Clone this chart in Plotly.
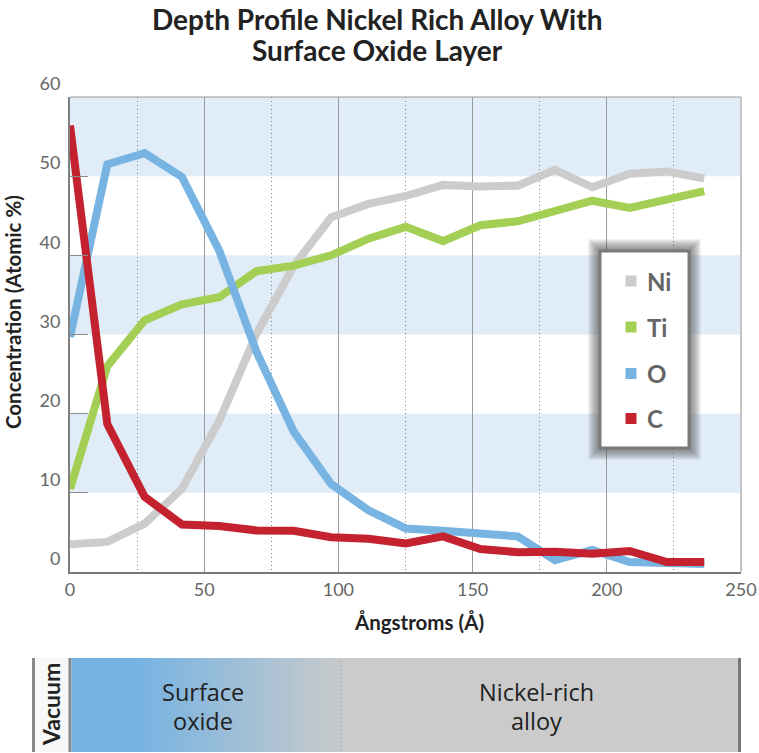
import plotly.graph_objects as go

# ---------------- data ----------------
depth = [0, 13.9, 27.8, 41.7, 55.6, 69.5, 83.4, 97.3, 111.2, 125.1, 139.0,
         152.9, 166.8, 180.7, 194.6, 208.5, 222.4, 236.3]
ni = [3.5, 3.8, 6.1, 10.5, 19.1, 30.1, 38.7, 44.8, 46.5, 47.5, 48.9, 48.7,
      48.8, 50.8, 48.6, 50.3, 50.6, 49.7]
ti = [10.5, 26.0, 31.8, 33.8, 34.7, 38.0, 38.7, 40.0, 42.1, 43.6, 41.8, 43.8,
      44.3, 45.7, 46.9, 46.0, 47.1, 48.1]
ox = [29.7, 51.5, 52.9, 49.9, 40.6, 27.8, 17.7, 11.1, 7.8, 5.5, 5.2, 4.9,
      4.5, 1.5, 2.8, 1.25, 1.25, 1.0]
cc = [56.4, 18.7, 9.5, 6.0, 5.8, 5.25, 5.2, 4.4, 4.2, 3.6, 4.5, 2.9, 2.5,
      2.55, 2.3, 2.65, 1.25, 1.25]

series_names = ["Ni", "Ti", "O", "C"]
series_values = [ni, ti, ox, cc]
series_colors = ["#cccccc", "#a3cf55", "#78b4e2", "#c4222f"]

y_ticks = [0, 10, 20, 30, 40, 50, 60]
x_ticks = [0, 50, 100, 150, 200, 250]
bands = [(10, 20), (30, 40), (50, 60)]

title_lines = ["Depth Profile Nickel Rich Alloy With", "Surface Oxide Layer"]
x_title = "Ångstroms (Å)"
y_title = "Concentration (Atomic %)"
layer_labels = [("Surface", "oxide"), ("Nickel-rich", "alloy")]

# ---------------- layout geometry ----------------
W, H = 759, 753
L, R, T, B = 70, 741, 97, 572
PW, PH = R - L, B - T


def PX(px):
    return (px - L) / PW


def PY(py):
    return (B - py) / PH


FONT = "Lato"
FONT2 = "Open Sans"
fig = go.Figure()

for name, vals, col in zip(series_names, series_values, series_colors):
    fig.add_trace(go.Scatter(x=depth, y=vals, mode="lines", name=name,
                             line=dict(color=col, width=8),
                             showlegend=False, hoverinfo="x+y+name"))

shapes = []
# horizontal bands
for y0, y1 in bands:
    shapes.append(dict(type="rect", xref="paper", yref="y", x0=0, x1=1,
                       y0=y0, y1=y1, fillcolor="#e0ecf8", line_width=0,
                       layer="below"))
# top & right border
shapes.append(dict(type="line", xref="paper", yref="paper", x0=0, x1=1,
                   y0=1, y1=1, line=dict(color="#999999", width=1)))
shapes.append(dict(type="line", xref="paper", yref="paper", x0=1, x1=1,
                   y0=0, y1=1, line=dict(color="#c4c4c4", width=2)))

# legend (drawn manually)
lx0, lx1, ly0, ly1 = 600, 689, 251, 448
for k in range(12, 0, -1):
    shapes.append(dict(type="rect", xref="paper", yref="paper",
                       x0=PX(lx0 - k), x1=PX(lx1 + k),
                       y0=PY(ly1 + k), y1=PY(ly0 - k),
                       fillcolor="rgba(70,70,70,0.07)", line_width=0))
shapes.append(dict(type="rect", xref="paper", yref="paper",
                   x0=PX(lx0), x1=PX(lx1), y0=PY(ly1), y1=PY(ly0),
                   fillcolor="white", line=dict(color="#7a7a7a", width=3)))
leg_y = [281, 327, 373.5, 418.5]
annotations = []
for name, col, yy in zip(series_names, series_colors, leg_y):
    shapes.append(dict(type="rect", xref="paper", yref="paper",
                       x0=PX(625.5), x1=PX(636.5), y0=PY(yy + 5.5),
                       y1=PY(yy - 5.5), fillcolor=col, line_width=0))
    annotations.append(dict(text="<b>%s</b>" % name, xref="paper",
                            yref="paper", x=PX(645), y=PY(yy), xanchor="left",
                            yanchor="middle", showarrow=False,
                            font=dict(family=FONT, size=24, color="#666666")))

# ---------------- bottom layer bar ----------------
bt, bb = 658, 752
# vacuum box
shapes.append(dict(type="rect", xref="paper", yref="paper",
                   x0=PX(35), x1=PX(69), y0=PY(bb), y1=PY(bt),
                   fillcolor="#f7f7f7", line_width=0))
shapes.append(dict(type="rect", xref="paper", yref="paper",
                   x0=PX(32), x1=PX(35), y0=PY(bb), y1=PY(bt),
                   fillcolor="#888888", line_width=0))
shapes.append(dict(type="rect", xref="paper", yref="paper",
                   x0=PX(68.5), x1=PX(71.5), y0=PY(bb), y1=PY(bt),
                   fillcolor="#888888", line_width=0))
# gradient blue -> grey (decoration strips)
c_blue = (119, 179, 226)
c_grey = (203, 203, 203)
g0, g1 = 140, 350
shapes.append(dict(type="rect", xref="paper", yref="paper",
                   x0=PX(71.5), x1=PX(g0), y0=PY(bb), y1=PY(bt),
                   fillcolor="rgb(%d,%d,%d)" % c_blue, line_width=0))
nstrip = 55
sw = (g1 - g0) / nstrip
for i in range(nstrip):
    t = (i + 0.5) / nstrip
    colr = tuple(int(round(c_blue[j] + (c_grey[j] - c_blue[j]) * t)) for j in range(3))
    shapes.append(dict(type="rect", xref="paper", yref="paper",
                       x0=PX(g0 + i * sw), x1=PX(g0 + (i + 1) * sw + 0.6),
                       y0=PY(bb), y1=PY(bt),
                       fillcolor="rgb(%d,%d,%d)" % colr, line_width=0))
shapes.append(dict(type="rect", xref="paper", yref="paper",
                   x0=PX(g1), x1=PX(738.5), y0=PY(bb), y1=PY(bt),
                   fillcolor="rgb(%d,%d,%d)" % c_grey, line_width=0))
shapes.append(dict(type="line", xref="paper", yref="paper",
                   x0=PX(341), x1=PX(341), y0=PY(bb - 2), y1=PY(bt + 2),
                   line=dict(color="#999999", width=1.2, dash="1px,3px")))
shapes.append(dict(type="rect", xref="paper", yref="paper",
                   x0=PX(738), x1=PX(741), y0=PY(bb), y1=PY(bt),
                   fillcolor="#777777", line_width=0))

annotations.append(dict(text="<b>Vacuum</b>", xref="paper", yref="paper",
                        x=PX(51), y=PY(705), textangle=-90, showarrow=False,
                        xanchor="center", yanchor="middle",
                        font=dict(family=FONT, size=23, color="#222222")))
for (l1, l2), cx in zip(layer_labels, [203, 536]):
    for txt, cy in ((l1, 692), (l2, 721)):
        annotations.append(dict(text=txt, xref="paper", yref="paper",
                                x=PX(cx), y=PY(cy), showarrow=False,
                                xanchor="center", yanchor="middle",
                                font=dict(family=FONT2, size=23.5,
                                          color="#222222")))
for txt, cy in zip(title_lines, [18.5, 50]):
    annotations.append(dict(text="<b>%s</b>" % txt, xref="paper",
                            yref="paper", x=PX(377), y=PY(cy),
                            showarrow=False, xanchor="center",
                            yanchor="middle",
                            font=dict(family=FONT, size=28, color="#222222")))
annotations += [
    dict(text="<b>%s</b>" % x_title, xref="paper", yref="paper", x=PX(419),
         y=PY(622), showarrow=False, xanchor="center", yanchor="middle",
         font=dict(family=FONT, size=20.5, color="#222222")),
    dict(text="<b>%s</b>" % y_title, xref="paper", yref="paper", x=PX(13),
         y=PY(312), showarrow=False, xanchor="center", yanchor="middle",
         textangle=-90, font=dict(family=FONT, size=20.5, color="#222222")),
]

fig.update_layout(
    width=W, height=H, autosize=False,
    margin=dict(l=L, r=W - R, t=T, b=H - B, pad=0, autoexpand=False),
    paper_bgcolor="white", plot_bgcolor="white",
    shapes=shapes, annotations=annotations, showlegend=False,
    font=dict(family=FONT, color="#666666"),
)
fig.update_xaxes(range=[0, 250], tickvals=x_ticks, showgrid=True,
                 automargin=False,
                 gridcolor="#9a9a9a", gridwidth=1, zeroline=False,
                 showline=True, linecolor="#777777", linewidth=2,
                 ticks="", tickfont=dict(family=FONT, size=18, color="#666666"),
                 minor=dict(dtick=25, tick0=0, showgrid=True,
                            griddash="1px,3px", gridcolor="#808080",
                            gridwidth=1))
fig.update_yaxes(range=[0, 60], tickvals=y_ticks, showgrid=False,
                 automargin=False,
                 zeroline=False, showline=True, linecolor="#808080",
                 linewidth=2, ticks="inside", ticklen=18, tickcolor="#8a8a8a",
                 tickwidth=1, ticklabelshift=-13, ticklabelstandoff=4,
                 tickfont=dict(family=FONT, size=18, color="#666666"))

fig.write_html("out.html")
